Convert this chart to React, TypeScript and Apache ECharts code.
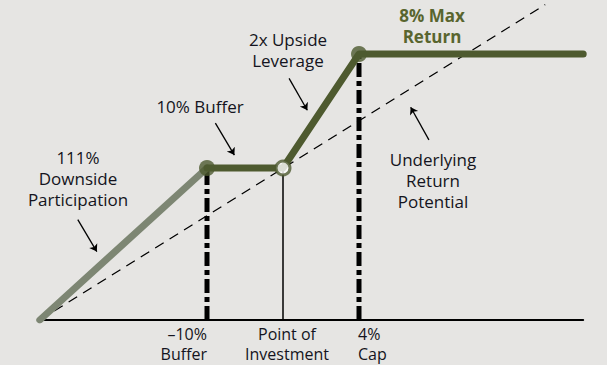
import React, { useEffect, useRef } from "react";
import * as echarts from "echarts";

// Schematic payoff coordinates (x: underlying return position, y: investment return position)
const downsideLine: number[][] = [[-32, -20], [-10, 0]];
const payoffLine: number[][] = [[-10, 0], [0, 0], [10, 15], [39.5, 15]];
const underlyingLine: number[][] = [[-32, -20], [34.5, 21.5]];
const bufferMarker: number[][] = [[-10, -20], [-10, 0]];
const capMarker: number[][] = [[10, -20], [10, 15]];
const investMarker: number[][] = [[0, -20], [0, 0]];
const filledDots: number[][] = [[-10, 0], [10, 15]];
const hollowDots: number[][] = [[0, 0]];
const arrows: number[][][] = [
  [[-27, -6.8], [-24.5, -11]],
  [[-8.9, 5.9], [-6.4, 1.7]],
  [[0.8, 11.8], [3.2, 7.6]],
  [[19.2, 3.7], [16.8, 8]],
];
const tickLabels: string[] = ["–10%\nBuffer", "Point of\nInvestment", "4%\nCap"];

const GREEN = "#4e5a2f";
const GRAY = "#7d8673";
const BG = "#e6e5e3";
const FONT = "'Open Sans', sans-serif";
const TXT = "#141420";

export default function App() {
  const ref = useRef<HTMLDivElement>(null);
  useEffect(() => {
    if (!ref.current) return;
    const chart = echarts.init(ref.current, undefined, { renderer: "svg" });
    const textStyle = (t: string, x: number, y: number, align: string, extra: any = {}) => ({
      type: "text",
      x,
      y,
      style: {
        text: t,
        fill: TXT,
        font: `17px ${FONT}`,
        align,
        verticalAlign: "top",
        lineHeight: 21,
        ...extra,
      },
    });
    const tickStyle = { font: `16px ${FONT}`, lineHeight: 20 };
    chart.setOption({
      animation: false,
      backgroundColor: BG,
      grid: { left: 39.8, right: 23.8, top: 0.8, bottom: 45 },
      xAxis: {
        type: "value",
        min: -32,
        max: 39.5,
        axisLine: { show: true, onZero: false, lineStyle: { color: "#000", width: 2 } },
        axisTick: { show: false },
        axisLabel: { show: false },
        splitLine: { show: false },
      },
      yAxis: {
        type: "value",
        min: -20,
        max: 22,
        axisLine: { show: false },
        axisTick: { show: false },
        axisLabel: { show: false },
        splitLine: { show: false },
      },
      series: [
        {
          type: "line",
          data: underlyingLine,
          symbol: "none",
          lineStyle: { color: "#000", width: 1.3, type: [10, 7] },
          z: 2,
        },
        {
          type: "line",
          data: bufferMarker,
          symbol: "none",
          lineStyle: { color: "#000", width: 5, type: [14, 4, 5, 4], cap: "butt" },
          z: 3,
        },
        {
          type: "line",
          data: capMarker,
          symbol: "none",
          lineStyle: { color: "#000", width: 5, type: [14, 4, 5, 4], cap: "butt" },
          z: 3,
        },
        {
          type: "line",
          data: investMarker,
          symbol: "none",
          lineStyle: { color: "#000", width: 1.5 },
          z: 3,
        },
        {
          type: "line",
          data: downsideLine,
          symbol: "none",
          lineStyle: { color: GRAY, width: 7, cap: "round" },
          z: 4,
        },
        {
          type: "line",
          data: payoffLine,
          symbol: "none",
          lineStyle: { color: GREEN, width: 7, cap: "round", join: "round" },
          z: 5,
        },
        {
          type: "scatter",
          data: filledDots,
          symbolSize: 16,
          itemStyle: { color: GREEN },
          z: 6,
        },
        {
          type: "scatter",
          data: hollowDots,
          symbolSize: 14,
          itemStyle: { color: "#ffffff", borderColor: GREEN, borderWidth: 3 },
          z: 6,
        },
        {
          type: "lines",
          coordinateSystem: "cartesian2d",
          data: arrows.map((c) => ({ coords: c })),
          symbol: ["none", "arrow"],
          symbolSize: 7,
          lineStyle: { color: "#000", width: 1.3, opacity: 1 },
          z: 7,
        },
      ],
      graphic: [
        textStyle("111%\nDownside\nParticipation", 78, 147, "center"),
        textStyle("10% Buffer", 200, 96, "center"),
        textStyle("2x Upside\nLeverage", 288, 29, "center"),
        textStyle("8% Max\nReturn", 432, 5, "center", {
          fill: "#59652f",
          font: `bold 17px ${FONT}`,
          lineHeight: 21,
        }),
        textStyle("Underlying\nReturn\nPotential", 433, 149, "center"),
        textStyle(tickLabels[0], 207, 324, "right", tickStyle),
        textStyle(tickLabels[1], 287, 324, "center", tickStyle),
        textStyle(tickLabels[2], 358, 324, "left", tickStyle),
      ],
    });
    return () => chart.dispose();
  }, []);
  return (
    <div
      ref={ref}
      style={{ position: "fixed", left: 0, top: 0, width: 607, height: 365, background: BG }}
    />
  );
}
